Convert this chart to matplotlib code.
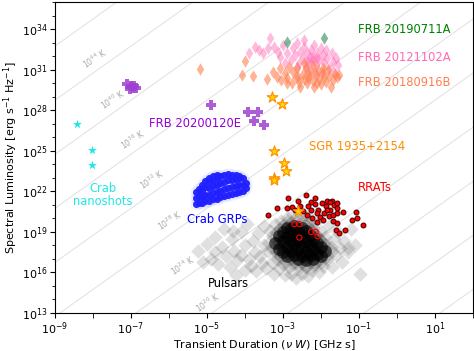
import numpy as np
import matplotlib
matplotlib.use("Agg")
import matplotlib.pyplot as plt

# wszystkie wartosci jako log10 (x: nu*W [GHz s], y: L [erg/s/Hz])
K_B = 1.380649e-16
TB_LINES = [8, 12, 16, 20, 24, 28, 32, 36, 40, 44, 48]
TB_LABELS = [44, 40, 36, 32, 28, 24, 20]
TB_LABEL_X = [-7.95, -7.47, -6.95, -6.45, -5.97, -5.63, -4.97]

nano_x = [-8.42, -8.03, -8.03]
nano_y = [26.97, 25.05, 23.93]

frb0120_x = [-7.10, -7.00, -6.92, -6.87, -7.03, -6.95, -4.90, -3.93, -3.65, -3.76, -3.51]
frb0120_y = [29.93, 29.78, 29.78, 29.63, 29.56, 29.63, 28.35, 27.84, 27.84, 27.21, 26.87]

frb0711_x = [-2.89, -1.91]
frb0711_y = [33.04, 33.36]

frb1102_x = [-3.89, -3.74, -3.62, -3.52, -3.39, -3.34, -3.24, -3.12, -3.08, -2.99,
             -2.90, -2.80, -2.75, -2.68, -2.62, -2.57, -2.54, -2.48, -2.45, -2.39,
             -2.36, -2.31, -2.27, -2.22, -2.18, -2.13, -2.10, -2.04, -2.01, -1.96,
             -1.92, -1.87, -1.83, -1.78, -1.72, -1.68, -1.61, -1.54, -1.66, -2.33,
             -2.16, -1.98, -2.46, -2.64, -2.95, -2.29, -2.20, -2.11, -2.38]
frb1102_y = [32.25, 32.69, 32.45, 32.20, 32.57, 33.31, 32.69, 32.32, 31.95, 32.82,
             32.20, 31.71, 32.57, 32.08, 32.94, 31.46, 32.32, 31.83, 32.69, 31.21,
             32.20, 31.58, 32.45, 31.95, 32.82, 31.34, 32.20, 31.71, 32.57, 32.08,
             31.46, 32.45, 31.83, 31.09, 32.20, 31.58, 31.83, 31.34, 30.84, 30.84,
             30.84, 30.72, 33.19, 31.21, 31.46, 31.95, 31.71, 31.83, 31.58]

frb0916_x = [-5.18, -4.01, -4.09, -3.80, -3.41,
             -3.27, -3.17, -3.08, -3.04, -2.95, -2.89, -2.83, -2.77, -2.73, -2.66,
             -2.62, -2.57, -2.54, -2.48, -2.44, -2.39, -2.36, -2.31, -2.27, -2.22,
             -2.18, -2.13, -2.09, -2.04, -2.01, -1.96, -1.92, -1.87, -1.82, -1.78,
             -1.74, -1.69, -1.63, -1.57, -1.52, -2.46, -2.20, -2.90, -2.60, -2.33,
             -2.11, -1.94]
frb0916_y = [31.04, 31.61, 30.62, 30.50, 30.28,
             30.84, 30.47, 31.09, 30.23, 30.72, 30.35, 31.21, 29.98, 30.84, 30.47,
             31.09, 30.10, 29.73, 30.67, 30.28, 31.09, 29.98, 30.52, 30.92, 30.18,
             29.68, 30.60, 30.97, 30.28, 29.93, 30.72, 30.42, 30.10, 30.97, 30.52,
             29.68, 30.23, 30.67, 30.47, 30.60, 31.46, 31.34, 29.98, 30.47, 30.35,
             30.03, 31.09]

sgr_x = [-3.30, -3.02, -3.25, -2.97, -2.92, -3.25, -3.25, -2.61]
sgr_y = [28.95, 28.42, 24.99, 24.11, 23.49, 22.95, 22.80, 20.53]

grp_x = [-5.28, -5.28, -5.28, -5.20, -5.20, -5.20, -5.12, -5.12, -5.12, -5.12,
         -5.04, -5.04, -5.04, -5.04, -4.95, -4.95, -4.95, -4.95, -4.95,
         -4.85, -4.85, -4.85, -4.85, -4.85, -4.75, -4.75, -4.75, -4.75, -4.75,
         -4.65, -4.65, -4.65, -4.65, -4.55, -4.55, -4.55, -4.55,
         -4.45, -4.45, -4.45, -4.45, -4.35, -4.35, -4.35, -4.35,
         -4.25, -4.25, -4.25, -4.25, -4.15, -4.15, -4.15, -4.15,
         -4.05, -4.05, -4.05, -3.97, -3.97]
grp_y = [21.05, 21.5, 21.95, 21.15, 21.65, 22.2, 21.15, 21.6, 22.05, 22.5,
         21.25, 21.75, 22.3, 22.75, 21.3, 21.75, 22.25, 22.7, 23.0,
         21.4, 21.85, 22.4, 22.85, 23.15, 21.45, 21.95, 22.5, 22.95, 23.2,
         21.55, 22.05, 22.6, 23.1, 21.65, 22.15, 22.7, 23.2,
         21.7, 22.25, 22.8, 23.25, 21.8, 22.35, 22.85, 23.2,
         21.85, 22.4, 22.9, 23.2, 21.95, 22.45, 22.95, 23.15,
         22.05, 22.5, 22.95, 22.25, 22.65]

psr_x = [-5.25, -5.00, -4.90, -4.80, -4.70, -4.60, -4.50, -4.40, -4.35, -4.30,
         -4.20, -4.10, -4.10, -4.00, -4.00, -3.90, -3.85, -3.80, -3.75, -3.70,
         -3.65, -3.60, -3.55, -3.50, -3.50, -3.45, -3.40, -3.35, -3.30, -3.25,
         -3.20, -3.15, -3.10, -3.05, -3.00, -2.95, -2.90, -2.85, -2.80, -2.75,
         -2.70, -2.65, -2.60, -2.55, -2.50, -2.45, -2.40, -2.35, -2.30, -2.25,
         -2.20, -2.15, -2.10, -2.05, -2.00, -1.95, -1.90, -1.85, -1.80, -1.75,
         -1.70, -1.65, -1.60, -1.55, -1.50, -1.45, -1.40, -1.30, -1.20, -1.10,
         -0.97, -4.55, -5.10, -4.80, -4.25, -3.95, -1.29, -4.32, -2.34]
psr_y = [17.6, 18.1, 17.0, 17.5, 16.6, 17.9, 17.2, 16.4, 18.5, 17.6,
         16.9, 19.0, 17.3, 16.2, 18.0, 17.0, 16.5, 18.3, 17.5, 16.1,
         18.9, 17.2, 16.7, 19.4, 18.0, 16.3, 17.6, 19.1, 16.8, 15.9,
         19.6, 17.0, 16.3, 19.8, 16.6, 15.8, 20.0, 16.4, 15.9, 20.3,
         16.6, 15.6, 19.9, 16.3, 15.9, 20.2, 16.4, 15.7, 19.7, 16.2,
         19.3, 16.6, 19.8, 16.0, 19.0, 16.5, 18.6, 17.0, 19.4, 17.9,
         16.4, 18.5, 17.3, 19.0, 17.8, 16.8, 18.3, 17.5, 19.2, 18.0,
         15.9, 19.2, 16.8, 18.6, 15.8, 19.6, 17.8, 19.1, 20.2]

psr_core_x = [-3.2, -3.1, -3.1, -3.0, -3.0, -3.0, -2.9, -2.9, -2.9, -2.9,
              -2.8, -2.8, -2.8, -2.7, -2.7, -2.7, -2.7, -2.6, -2.6, -2.6,
              -2.6, -2.5, -2.5, -2.5, -2.5, -2.4, -2.4, -2.4, -2.4, -2.3,
              -2.3, -2.3, -2.2, -2.2, -2.2, -2.1, -2.1, -2.0, -2.0, -1.9]
psr_core_y = [18.2, 18.7, 17.7, 19.0, 18.3, 17.5, 19.3, 18.6, 17.9, 17.2,
              19.2, 18.4, 17.6, 19.4, 18.8, 18.1, 17.3, 19.0, 18.4, 17.7,
              17.0, 19.3, 18.6, 17.9, 17.2, 19.1, 18.3, 17.5, 16.9, 18.8,
              18.0, 17.3, 18.5, 17.7, 17.0, 18.2, 17.4, 17.9, 17.2, 17.6]

rrat_x = [-2.86, -2.40, -2.15, -1.85, -1.70, -3.39, -3.15, -2.89, -2.60, -2.54,
          -2.47, -2.35, -2.27, -2.16, -2.07, -1.98, -1.88, -1.76, -1.67, -1.59,
          -2.38, -2.25, -2.11, -2.03, -1.92, -1.80, -1.69, -1.57, -1.41, -1.09,
          -1.06, -0.89, -2.11, -1.96, -1.69, -1.57, -1.61, -1.37, -1.52, -2.77,
          -2.68, -1.85, -1.76, -1.59, -1.19, -2.26]
rrat_y = [21.47, 21.71, 21.47, 21.27, 21.27, 20.23, 20.73, 20.80, 21.30, 20.90,
          20.55, 20.90, 20.65, 21.05, 20.65, 21.10, 20.90, 20.65, 20.97, 21.10,
          20.23, 20.06, 20.36, 20.11, 20.36, 20.16, 20.23, 20.36, 20.48, 20.48,
          19.99, 19.54, 19.74, 19.86, 19.81, 19.67, 19.12, 19.17, 18.95, 20.85,
          20.60, 20.60, 21.22, 20.73, 19.86, 21.22]

rrat_open_x = [-2.70, -2.57, -2.26, -2.14, -2.09, -2.57]
rrat_open_y = [19.57, 19.57, 19.00, 19.00, 18.68, 18.58]


def p(v):
    return 10.0 ** np.array(v)


def main():
    fig = plt.figure(figsize=(4.74, 3.51), dpi=100)
    ax = fig.add_axes([55 / 474, 38 / 351, 418 / 474, 311 / 351])
    ax.set_xscale("log")
    ax.set_yscale("log")
    ax.set_xlim(1e-9, 1e2)
    ax.set_ylim(1e13, 1e36)

    # linie stalej temperatury jasnosciowej
    nuw = np.logspace(-9, 2, 100)
    for t in TB_LINES:
        ax.plot(nuw, 4 * K_B * 10.0**t * (nuw * 1e9) ** 2, color="0.88", lw=0.7, zorder=0)
    for t, lx in zip(TB_LABELS, TB_LABEL_X):
        x = 10.0**lx
        y = 4 * K_B * 10.0**t * (x * 1e9) ** 2 * 10.0
        ax.text(x, y, rf"$10^{{{t}}}$ K", color="0.65", fontsize=5.5, rotation=33,
                ha="center", va="center", zorder=1)

    ax.scatter(p(psr_x), p(psr_y), marker="D", s=55, color="k", alpha=0.12, lw=0, zorder=2)
    ax.scatter(p(psr_core_x), p(psr_core_y), marker="D", s=200, color="k", alpha=0.12, lw=0, zorder=2)
    ax.scatter(p(psr_core_x), p(psr_core_y), marker="o", s=85, color="k", alpha=0.6, lw=0, zorder=2)

    ax.scatter(p(grp_x), p(grp_y), marker="o", s=80, color="blue", alpha=0.05, lw=0, zorder=2)
    ax.scatter(p(grp_x), p(grp_y), marker="o", s=26, color="#1f1fff", alpha=0.95, lw=0, zorder=2)

    ax.scatter(p(nano_x), p(nano_y), marker="*", s=45, color="#22e6e6", lw=0, zorder=3)
    ax.scatter(p(frb0120_x), p(frb0120_y), marker="P", s=48, color="#a040d0", alpha=0.85, lw=0, zorder=3)

    ax.scatter(p(frb1102_x), p(frb1102_y), marker="d", s=40, color="hotpink", alpha=0.45, lw=0, zorder=3)
    ax.scatter(p(frb0916_x), p(frb0916_y), marker="d", s=40, color="coral", alpha=0.6, lw=0, zorder=3)
    ax.scatter(p(frb0711_x), p(frb0711_y), marker="d", s=40, color="seagreen", alpha=0.6, lw=0, zorder=3)

    ax.scatter(p(rrat_x), p(rrat_y), marker="o", s=12, facecolor="red", edgecolor="#500000", lw=0.8, zorder=4)
    ax.scatter(p(rrat_open_x), p(rrat_open_y), marker="o", s=14, facecolor="none", edgecolor="red", lw=0.8, zorder=4)
    ax.scatter(p(sgr_x), p(sgr_y), marker="*", s=65, facecolor="gold", edgecolor="darkorange", lw=0.8, zorder=5)

    fs = 8.3
    tr = ax.transAxes
    ax.text(0.725, 0.913, "FRB 20190711A", color="green", fontsize=fs, transform=tr, va="center")
    ax.text(0.725, 0.823, "FRB 20121102A", color="hotpink", fontsize=fs, transform=tr, va="center")
    ax.text(0.725, 0.740, "FRB 20180916B", color="coral", fontsize=fs, transform=tr, va="center")
    ax.text(0.608, 0.534, "SGR 1935+2154", color="darkorange", fontsize=fs, transform=tr, va="center")
    ax.text(0.725, 0.405, "RRATs", color="red", fontsize=fs, transform=tr, va="center")
    ax.text(0.225, 0.608, "FRB 20200120E", color="darkviolet", fontsize=fs, transform=tr, va="center")
    ax.text(0.115, 0.381, "Crab\nnanoshots", color="#22e6e6", fontsize=fs, transform=tr,
            ha="center", va="center", multialignment="center", linespacing=1.0)
    ax.text(0.388, 0.302, "Crab GRPs", color="blue", fontsize=fs, transform=tr, ha="center", va="center")
    ax.text(0.414, 0.096, "Pulsars", color="k", fontsize=fs, transform=tr, ha="center", va="center")

    ax.set_xticks(10.0 ** np.arange(-9, 2, 2))
    ax.set_xticks(10.0 ** np.arange(-9, 3, 1), minor=True)
    ax.set_yticks(10.0 ** np.arange(13, 35, 3))
    ax.set_yticks(10.0 ** np.arange(13, 37, 1), minor=True)
    ax.xaxis.set_minor_formatter(matplotlib.ticker.NullFormatter())
    ax.yaxis.set_minor_formatter(matplotlib.ticker.NullFormatter())
    ax.tick_params(labelsize=8, pad=2)
    ax.tick_params(axis="x", which="minor", length=3.5)

    ax.set_xlabel(r"Transient Duration ($\nu$ $W$) [GHz s]", fontsize=8, labelpad=1)
    ax.set_ylabel(r"Spectral Luminosity [erg s$^{-1}$ Hz$^{-1}$]", fontsize=8, labelpad=1)

    fig.savefig("out.png", dpi=100)


if __name__ == "__main__":
    main()
